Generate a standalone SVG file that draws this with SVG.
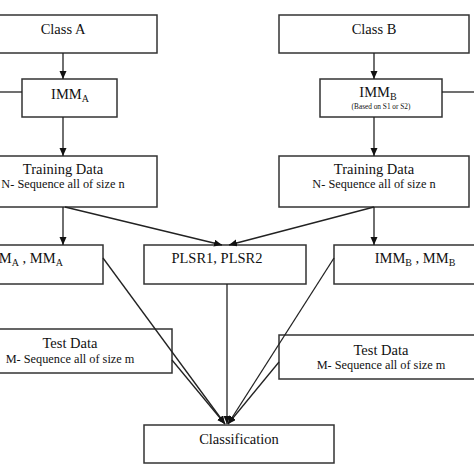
<svg xmlns="http://www.w3.org/2000/svg" width="474" height="474" viewBox="0 0 474 474">
<style>
.box{fill:#fff;stroke:#333;stroke-width:1.5}
text{fill:#111;text-anchor:middle}
.t{font-size:14.5px}
.s{font-size:12.3px}
.xs{font-size:7.3px}
.c line{stroke:#222;stroke-width:1.3;fill:none}
.c .a{marker-end:url(#ah)}
</style>
<defs>
<marker id="ah" markerUnits="userSpaceOnUse" markerWidth="9" markerHeight="8" refX="8" refY="3.5" orient="auto">
<path d="M0,0 L8,3.5 L0,7 z" fill="#111"/>
</marker>
</defs>
<rect width="474" height="474" fill="#fff"/>
<g font-family="'Liberation Serif', 'DejaVu Serif', serif">
<g id="classA"><rect class="box" x="-5" y="15" width="162" height="38"/><text class="t" x="63" y="34">Class A</text></g>
<g id="classB"><rect class="box" x="279" y="15" width="190" height="38"/><text class="t" x="374" y="34">Class B</text></g>
<g id="immA"><rect class="box" x="22" y="79" width="95" height="38"/><text class="t" x="70" y="99">IMM<tspan font-size="10" dy="2.5">A</tspan></text></g>
<g id="immB"><rect class="box" x="320" y="79" width="122" height="38"/><text class="t" x="378" y="97">IMM<tspan font-size="10" dy="2.5">B</tspan></text><text class="xs" x="381" y="108.5">(Based on S1 or S2)</text></g>
<g id="trainA"><rect class="box" x="-5" y="156" width="162" height="51"/><text class="t" x="63" y="174">Training Data</text><text class="s" x="63" y="188">N- Sequence all of size n</text></g>
<g id="trainB"><rect class="box" x="279" y="156" width="190" height="51"/><text class="t" x="374" y="174">Training Data</text><text class="s" x="374" y="188">N- Sequence all of size n</text></g>
<g id="immmmA"><rect class="box" x="-60" y="245" width="163" height="39"/><text class="t" x="22" y="263">IMM<tspan font-size="10" dy="2.5">A</tspan><tspan dy="-2.5"> , MM</tspan><tspan font-size="10" dy="2.5">A</tspan></text></g>
<g id="plsr"><rect class="box" x="144" y="245" width="162" height="39"/><text class="t" x="217" y="263">PLSR1, PLSR2</text></g>
<g id="immmmB"><rect class="box" x="334" y="245" width="170" height="39"/><text class="t" x="415" y="263">IMM<tspan font-size="10" dy="2.5">B</tspan><tspan dy="-2.5"> , MM</tspan><tspan font-size="10" dy="2.5">B</tspan></text></g>
<g id="testA"><rect class="box" x="-5" y="329" width="177" height="44"/><text class="t" x="70" y="348">Test Data</text><text class="s" x="70" y="363">M- Sequence all of size m</text></g>
<g id="testB"><rect class="box" x="279" y="335" width="230" height="44"/><text class="t" x="381" y="355">Test Data</text><text class="s" x="381" y="369">M- Sequence all of size m</text></g>
<g id="classification"><rect class="box" x="144" y="425" width="190" height="38"/><text class="t" x="239" y="444">Classification</text></g>
</g>
<g class="c" id="connectors">
<line x1="0" y1="92" x2="22" y2="92"/>
<line x1="442" y1="92" x2="474" y2="92"/>
<line class="a" x1="63" y1="53" x2="63" y2="79"/>
<line class="a" x1="63" y1="117" x2="63" y2="156"/>
<line class="a" x1="63" y1="207" x2="63" y2="245"/>
<line class="a" x1="374" y1="53" x2="374" y2="79"/>
<line class="a" x1="374" y1="117" x2="374" y2="156"/>
<line class="a" x1="374" y1="207" x2="374" y2="245"/>
<line class="a" x1="65" y1="207" x2="222" y2="245"/>
<line class="a" x1="374" y1="207" x2="229" y2="245"/>
<line class="a" x1="103" y1="258" x2="225" y2="424"/>
<line class="a" x1="172" y1="360" x2="225" y2="424"/>
<line class="a" x1="227" y1="284" x2="227" y2="424"/>
<line class="a" x1="334" y1="258" x2="228" y2="424"/>
<line class="a" x1="279" y1="362" x2="228" y2="424"/>
</g>
</svg>
